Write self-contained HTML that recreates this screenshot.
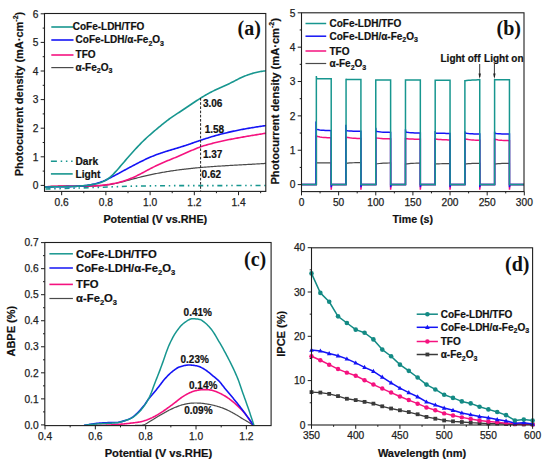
<!DOCTYPE html>
<html><head><meta charset="utf-8"><style>
html,body{margin:0;padding:0;background:#fff;}
svg{display:block;}
</style></head><body>
<svg width="550" height="468" viewBox="0 0 550 468">
<defs>
<clipPath id="ca"><rect x="44.5" y="13.5" width="221.3" height="177.9"/></clipPath>
<clipPath id="cb"><rect x="301.5" y="12.8" width="222.5" height="178.79999999999998"/></clipPath>
<clipPath id="cc"><rect x="44.8" y="242.5" width="226.3" height="183.10000000000002"/></clipPath>
<clipPath id="cd"><rect x="311.5" y="247.8" width="221.10000000000002" height="177.2"/></clipPath>
</defs>
<rect width="550" height="468" fill="#fff"/>
<g clip-path="url(#ca)">
<path d="M44.5,189.0 L70,188.3 L100,187.3 L130,186.2 L160,185.7 L265.8,185.5" fill="none" stroke="#17968f" stroke-width="1.6" stroke-dasharray="5,3.7,1.5,3.7,1.5,3.7" stroke-dashoffset="-1"/>
<path d="M44.00,186.89 L45.12,186.79 L46.23,186.71 L47.35,186.63 L48.46,186.56 L49.58,186.49 L50.69,186.44 L51.81,186.39 L52.92,186.34 L54.04,186.30 L55.16,186.27 L56.27,186.25 L57.39,186.23 L58.50,186.21 L59.62,186.20 L60.73,186.19 L61.85,186.19 L62.96,186.19 L64.08,186.19 L65.20,186.20 L66.31,186.20 L67.43,186.21 L68.54,186.22 L69.66,186.24 L70.77,186.25 L71.89,186.26 L73.01,186.28 L74.12,186.29 L75.24,186.30 L76.35,186.32 L77.47,186.33 L78.58,186.34 L79.70,186.35 L80.81,186.35 L81.93,186.36 L83.05,186.36 L84.16,186.35 L85.28,186.35 L86.39,186.34 L87.51,186.32 L88.62,186.30 L89.74,186.28 L90.85,186.25 L91.97,186.21 L93.09,186.17 L94.20,186.12 L95.32,186.07 L96.43,186.01 L97.55,185.94 L98.66,185.86 L99.78,185.78 L100.89,185.68 L102.01,185.58 L103.13,185.47 L104.24,185.35 L105.36,185.22 L106.47,185.07 L107.59,184.92 L108.70,184.76 L109.82,184.58 L110.93,184.40 L112.05,184.20 L113.17,183.99 L114.28,183.77 L115.40,183.53 L116.51,183.29 L117.63,183.03 L118.74,182.76 L119.86,182.49 L120.97,182.21 L122.09,181.92 L123.21,181.63 L124.32,181.33 L125.44,181.03 L126.55,180.73 L127.67,180.43 L128.78,180.13 L129.90,179.82 L131.02,179.52 L132.13,179.22 L133.25,178.93 L134.36,178.63 L135.48,178.34 L136.59,178.05 L137.71,177.77 L138.82,177.49 L139.94,177.21 L141.06,176.93 L142.17,176.66 L143.29,176.39 L144.40,176.13 L145.52,175.86 L146.63,175.61 L147.75,175.35 L148.86,175.10 L149.98,174.86 L151.10,174.62 L152.21,174.38 L153.33,174.15 L154.44,173.92 L155.56,173.69 L156.67,173.47 L157.79,173.26 L158.90,173.04 L160.02,172.84 L161.14,172.63 L162.25,172.43 L163.37,172.23 L164.48,172.04 L165.60,171.85 L166.71,171.67 L167.83,171.49 L168.94,171.31 L170.06,171.13 L171.18,170.96 L172.29,170.80 L173.41,170.63 L174.52,170.47 L175.64,170.31 L176.75,170.16 L177.87,170.01 L178.98,169.86 L180.10,169.71 L181.22,169.57 L182.33,169.43 L183.45,169.30 L184.56,169.16 L185.68,169.03 L186.79,168.90 L187.91,168.78 L189.03,168.65 L190.14,168.53 L191.26,168.42 L192.37,168.30 L193.49,168.19 L194.60,168.08 L195.72,167.97 L196.83,167.86 L197.95,167.76 L199.07,167.66 L200.18,167.56 L201.30,167.46 L202.41,167.36 L203.53,167.27 L204.64,167.18 L205.76,167.09 L206.87,167.00 L207.99,166.91 L209.11,166.83 L210.22,166.74 L211.34,166.66 L212.45,166.58 L213.57,166.50 L214.68,166.42 L215.80,166.35 L216.91,166.27 L218.03,166.20 L219.15,166.13 L220.26,166.05 L221.38,165.98 L222.49,165.91 L223.61,165.85 L224.72,165.78 L225.84,165.71 L226.95,165.64 L228.07,165.58 L229.19,165.51 L230.30,165.45 L231.42,165.39 L232.53,165.32 L233.65,165.26 L234.76,165.20 L235.88,165.14 L236.99,165.07 L238.11,165.01 L239.23,164.95 L240.34,164.89 L241.46,164.83 L242.57,164.77 L243.69,164.71 L244.80,164.65 L245.92,164.59 L247.04,164.52 L248.15,164.46 L249.27,164.40 L250.38,164.34 L251.50,164.28 L252.61,164.21 L253.73,164.15 L254.84,164.09 L255.96,164.02 L257.08,163.96 L258.19,163.89 L259.31,163.82 L260.42,163.75 L261.54,163.69 L262.65,163.62 L263.77,163.55 L264.88,163.47 L266.00,163.40" fill="none" stroke="#4a4a4a" stroke-width="1.2" stroke-linejoin="round"/>
<path d="M44.00,187.02 L45.12,186.91 L46.23,186.81 L47.35,186.71 L48.46,186.63 L49.58,186.55 L50.69,186.48 L51.81,186.42 L52.92,186.36 L54.04,186.31 L55.16,186.27 L56.27,186.23 L57.39,186.19 L58.50,186.17 L59.62,186.14 L60.73,186.12 L61.85,186.11 L62.96,186.10 L64.08,186.09 L65.20,186.08 L66.31,186.08 L67.43,186.08 L68.54,186.08 L69.66,186.09 L70.77,186.09 L71.89,186.09 L73.01,186.10 L74.12,186.11 L75.24,186.11 L76.35,186.12 L77.47,186.12 L78.58,186.12 L79.70,186.12 L80.81,186.12 L81.93,186.12 L83.05,186.11 L84.16,186.10 L85.28,186.09 L86.39,186.08 L87.51,186.06 L88.62,186.03 L89.74,186.00 L90.85,185.97 L91.97,185.93 L93.09,185.88 L94.20,185.83 L95.32,185.77 L96.43,185.70 L97.55,185.63 L98.66,185.55 L99.78,185.46 L100.89,185.37 L102.01,185.26 L103.13,185.15 L104.24,185.02 L105.36,184.89 L106.47,184.75 L107.59,184.59 L108.70,184.43 L109.82,184.25 L110.93,184.07 L112.05,183.87 L113.17,183.66 L114.28,183.44 L115.40,183.20 L116.51,182.95 L117.63,182.69 L118.74,182.41 L119.86,182.12 L120.97,181.81 L122.09,181.49 L123.21,181.16 L124.32,180.81 L125.44,180.44 L126.55,180.06 L127.67,179.66 L128.78,179.24 L129.90,178.81 L131.02,178.36 L132.13,177.90 L133.25,177.42 L134.36,176.92 L135.48,176.40 L136.59,175.86 L137.71,175.32 L138.82,174.76 L139.94,174.19 L141.06,173.61 L142.17,173.02 L143.29,172.44 L144.40,171.85 L145.52,171.25 L146.63,170.66 L147.75,170.06 L148.86,169.47 L149.98,168.88 L151.10,168.30 L152.21,167.72 L153.33,167.15 L154.44,166.59 L155.56,166.04 L156.67,165.49 L157.79,164.96 L158.90,164.44 L160.02,163.94 L161.14,163.44 L162.25,162.95 L163.37,162.47 L164.48,161.99 L165.60,161.52 L166.71,161.06 L167.83,160.60 L168.94,160.14 L170.06,159.69 L171.18,159.24 L172.29,158.78 L173.41,158.33 L174.52,157.88 L175.64,157.42 L176.75,156.96 L177.87,156.50 L178.98,156.03 L180.10,155.55 L181.22,155.07 L182.33,154.58 L183.45,154.09 L184.56,153.59 L185.68,153.09 L186.79,152.59 L187.91,152.09 L189.03,151.59 L190.14,151.09 L191.26,150.60 L192.37,150.11 L193.49,149.64 L194.60,149.16 L195.72,148.70 L196.83,148.25 L197.95,147.82 L199.07,147.39 L200.18,146.98 L201.30,146.59 L202.41,146.22 L203.53,145.86 L204.64,145.51 L205.76,145.18 L206.87,144.86 L207.99,144.55 L209.11,144.24 L210.22,143.95 L211.34,143.65 L212.45,143.37 L213.57,143.09 L214.68,142.81 L215.80,142.54 L216.91,142.27 L218.03,142.01 L219.15,141.75 L220.26,141.49 L221.38,141.24 L222.49,141.00 L223.61,140.75 L224.72,140.51 L225.84,140.28 L226.95,140.05 L228.07,139.82 L229.19,139.59 L230.30,139.37 L231.42,139.15 L232.53,138.93 L233.65,138.72 L234.76,138.51 L235.88,138.30 L236.99,138.09 L238.11,137.89 L239.23,137.68 L240.34,137.48 L241.46,137.29 L242.57,137.09 L243.69,136.90 L244.80,136.70 L245.92,136.51 L247.04,136.32 L248.15,136.13 L249.27,135.94 L250.38,135.76 L251.50,135.57 L252.61,135.39 L253.73,135.20 L254.84,135.02 L255.96,134.84 L257.08,134.65 L258.19,134.47 L259.31,134.29 L260.42,134.10 L261.54,133.92 L262.65,133.74 L263.77,133.55 L264.88,133.37 L266.00,133.18" fill="none" stroke="#f5127f" stroke-width="1.6" stroke-linejoin="round"/>
<path d="M44.00,187.22 L45.12,187.14 L46.23,187.07 L47.35,187.01 L48.46,186.96 L49.58,186.91 L50.69,186.87 L51.81,186.84 L52.92,186.81 L54.04,186.79 L55.16,186.77 L56.27,186.75 L57.39,186.74 L58.50,186.73 L59.62,186.72 L60.73,186.71 L61.85,186.71 L62.96,186.70 L64.08,186.69 L65.20,186.68 L66.31,186.67 L67.43,186.66 L68.54,186.64 L69.66,186.62 L70.77,186.59 L71.89,186.56 L73.01,186.53 L74.12,186.49 L75.24,186.44 L76.35,186.38 L77.47,186.32 L78.58,186.25 L79.70,186.17 L80.81,186.07 L81.93,185.97 L83.05,185.86 L84.16,185.74 L85.28,185.60 L86.39,185.45 L87.51,185.29 L88.62,185.12 L89.74,184.93 L90.85,184.72 L91.97,184.50 L93.09,184.26 L94.20,184.00 L95.32,183.73 L96.43,183.43 L97.55,183.12 L98.66,182.78 L99.78,182.41 L100.89,182.03 L102.01,181.62 L103.13,181.18 L104.24,180.71 L105.36,180.22 L106.47,179.70 L107.59,179.16 L108.70,178.60 L109.82,178.03 L110.93,177.46 L112.05,176.88 L113.17,176.30 L114.28,175.71 L115.40,175.12 L116.51,174.52 L117.63,173.93 L118.74,173.33 L119.86,172.72 L120.97,172.12 L122.09,171.52 L123.21,170.91 L124.32,170.31 L125.44,169.70 L126.55,169.10 L127.67,168.50 L128.78,167.89 L129.90,167.30 L131.02,166.70 L132.13,166.10 L133.25,165.51 L134.36,164.93 L135.48,164.34 L136.59,163.76 L137.71,163.19 L138.82,162.62 L139.94,162.06 L141.06,161.50 L142.17,160.95 L143.29,160.41 L144.40,159.87 L145.52,159.35 L146.63,158.83 L147.75,158.32 L148.86,157.82 L149.98,157.33 L151.10,156.85 L152.21,156.38 L153.33,155.92 L154.44,155.47 L155.56,155.03 L156.67,154.61 L157.79,154.20 L158.90,153.79 L160.02,153.40 L161.14,153.02 L162.25,152.65 L163.37,152.28 L164.48,151.92 L165.60,151.57 L166.71,151.22 L167.83,150.88 L168.94,150.54 L170.06,150.20 L171.18,149.87 L172.29,149.54 L173.41,149.20 L174.52,148.87 L175.64,148.54 L176.75,148.20 L177.87,147.87 L178.98,147.52 L180.10,147.18 L181.22,146.83 L182.33,146.48 L183.45,146.12 L184.56,145.75 L185.68,145.39 L186.79,145.02 L187.91,144.64 L189.03,144.27 L190.14,143.89 L191.26,143.51 L192.37,143.13 L193.49,142.75 L194.60,142.36 L195.72,141.98 L196.83,141.60 L197.95,141.22 L199.07,140.84 L200.18,140.46 L201.30,140.08 L202.41,139.71 L203.53,139.34 L204.64,138.97 L205.76,138.60 L206.87,138.24 L207.99,137.89 L209.11,137.54 L210.22,137.19 L211.34,136.85 L212.45,136.52 L213.57,136.19 L214.68,135.86 L215.80,135.55 L216.91,135.23 L218.03,134.93 L219.15,134.63 L220.26,134.33 L221.38,134.04 L222.49,133.75 L223.61,133.47 L224.72,133.20 L225.84,132.93 L226.95,132.66 L228.07,132.40 L229.19,132.14 L230.30,131.89 L231.42,131.64 L232.53,131.39 L233.65,131.15 L234.76,130.91 L235.88,130.68 L236.99,130.45 L238.11,130.23 L239.23,130.01 L240.34,129.79 L241.46,129.57 L242.57,129.36 L243.69,129.15 L244.80,128.95 L245.92,128.75 L247.04,128.55 L248.15,128.35 L249.27,128.16 L250.38,127.97 L251.50,127.79 L252.61,127.60 L253.73,127.42 L254.84,127.24 L255.96,127.06 L257.08,126.89 L258.19,126.71 L259.31,126.54 L260.42,126.37 L261.54,126.21 L262.65,126.04 L263.77,125.88 L264.88,125.72 L266.00,125.56" fill="none" stroke="#1414f5" stroke-width="1.6" stroke-linejoin="round"/>
<path d="M44.00,187.22 L45.12,187.16 L46.23,187.10 L47.35,187.05 L48.46,187.00 L49.58,186.96 L50.69,186.92 L51.81,186.89 L52.92,186.86 L54.04,186.84 L55.16,186.81 L56.27,186.79 L57.39,186.77 L58.50,186.75 L59.62,186.74 L60.73,186.72 L61.85,186.70 L62.96,186.69 L64.08,186.67 L65.20,186.65 L66.31,186.63 L67.43,186.60 L68.54,186.58 L69.66,186.55 L70.77,186.52 L71.89,186.48 L73.01,186.44 L74.12,186.39 L75.24,186.34 L76.35,186.28 L77.47,186.22 L78.58,186.15 L79.70,186.07 L80.81,185.98 L81.93,185.89 L83.05,185.79 L84.16,185.67 L85.28,185.55 L86.39,185.42 L87.51,185.28 L88.62,185.13 L89.74,184.97 L90.85,184.79 L91.97,184.60 L93.09,184.41 L94.20,184.19 L95.32,183.97 L96.43,183.72 L97.55,183.46 L98.66,183.17 L99.78,182.85 L100.89,182.48 L102.01,182.06 L103.13,181.59 L104.24,181.06 L105.36,180.45 L106.47,179.77 L107.59,179.02 L108.70,178.19 L109.82,177.30 L110.93,176.34 L112.05,175.31 L113.17,174.23 L114.28,173.09 L115.40,171.91 L116.51,170.70 L117.63,169.45 L118.74,168.18 L119.86,166.89 L120.97,165.59 L122.09,164.29 L123.21,162.99 L124.32,161.69 L125.44,160.39 L126.55,159.10 L127.67,157.81 L128.78,156.53 L129.90,155.26 L131.02,154.00 L132.13,152.74 L133.25,151.50 L134.36,150.27 L135.48,149.05 L136.59,147.85 L137.71,146.66 L138.82,145.48 L139.94,144.32 L141.06,143.18 L142.17,142.06 L143.29,140.96 L144.40,139.88 L145.52,138.82 L146.63,137.78 L147.75,136.77 L148.86,135.77 L149.98,134.78 L151.10,133.81 L152.21,132.85 L153.33,131.89 L154.44,130.94 L155.56,129.99 L156.67,129.06 L157.79,128.12 L158.90,127.20 L160.02,126.27 L161.14,125.36 L162.25,124.45 L163.37,123.55 L164.48,122.66 L165.60,121.78 L166.71,120.92 L167.83,120.07 L168.94,119.24 L170.06,118.43 L171.18,117.64 L172.29,116.87 L173.41,116.12 L174.52,115.38 L175.64,114.64 L176.75,113.91 L177.87,113.19 L178.98,112.46 L180.10,111.73 L181.22,111.00 L182.33,110.26 L183.45,109.51 L184.56,108.76 L185.68,108.01 L186.79,107.26 L187.91,106.50 L189.03,105.75 L190.14,104.99 L191.26,104.24 L192.37,103.49 L193.49,102.74 L194.60,102.00 L195.72,101.26 L196.83,100.53 L197.95,99.80 L199.07,99.08 L200.18,98.37 L201.30,97.68 L202.41,96.99 L203.53,96.31 L204.64,95.64 L205.76,94.99 L206.87,94.35 L207.99,93.73 L209.11,93.12 L210.22,92.53 L211.34,91.96 L212.45,91.40 L213.57,90.86 L214.68,90.32 L215.80,89.80 L216.91,89.28 L218.03,88.77 L219.15,88.27 L220.26,87.77 L221.38,87.27 L222.49,86.77 L223.61,86.27 L224.72,85.77 L225.84,85.26 L226.95,84.74 L228.07,84.22 L229.19,83.68 L230.30,83.13 L231.42,82.57 L232.53,82.00 L233.65,81.43 L234.76,80.85 L235.88,80.27 L236.99,79.69 L238.11,79.13 L239.23,78.57 L240.34,78.03 L241.46,77.51 L242.57,77.01 L243.69,76.53 L244.80,76.06 L245.92,75.62 L247.04,75.20 L248.15,74.79 L249.27,74.40 L250.38,74.04 L251.50,73.69 L252.61,73.36 L253.73,73.05 L254.84,72.75 L255.96,72.48 L257.08,72.22 L258.19,71.98 L259.31,71.76 L260.42,71.56 L261.54,71.37 L262.65,71.20 L263.77,71.05 L264.88,70.92 L266.00,70.80" fill="none" stroke="#17968f" stroke-width="1.6" stroke-linejoin="round"/>
</g>
<line x1="200.6" y1="98" x2="200.6" y2="191.4" stroke="#222" stroke-width="1" stroke-dasharray="2.6,1.6"/>
<rect x="44.5" y="13.5" width="221.3" height="177.9" fill="none" stroke="#1e1e1e" stroke-width="1.1"/>
<line x1="40.7" y1="185.4" x2="44.5" y2="185.4" stroke="#1e1e1e" stroke-width="1" />
<text x="38.3" y="189.1" font-size="10.2" font-weight="normal" text-anchor="end" font-family='"Liberation Sans", sans-serif' fill="#222" stroke="#222" stroke-width="0.25">0</text>
<line x1="40.7" y1="156.8" x2="44.5" y2="156.8" stroke="#1e1e1e" stroke-width="1" />
<text x="38.3" y="160.5" font-size="10.2" font-weight="normal" text-anchor="end" font-family='"Liberation Sans", sans-serif' fill="#222" stroke="#222" stroke-width="0.25">1</text>
<line x1="40.7" y1="128.2" x2="44.5" y2="128.2" stroke="#1e1e1e" stroke-width="1" />
<text x="38.3" y="131.89999999999998" font-size="10.2" font-weight="normal" text-anchor="end" font-family='"Liberation Sans", sans-serif' fill="#222" stroke="#222" stroke-width="0.25">2</text>
<line x1="40.7" y1="99.6" x2="44.5" y2="99.6" stroke="#1e1e1e" stroke-width="1" />
<text x="38.3" y="103.3" font-size="10.2" font-weight="normal" text-anchor="end" font-family='"Liberation Sans", sans-serif' fill="#222" stroke="#222" stroke-width="0.25">3</text>
<line x1="40.7" y1="71.0" x2="44.5" y2="71.0" stroke="#1e1e1e" stroke-width="1" />
<text x="38.3" y="74.7" font-size="10.2" font-weight="normal" text-anchor="end" font-family='"Liberation Sans", sans-serif' fill="#222" stroke="#222" stroke-width="0.25">4</text>
<line x1="40.7" y1="42.400000000000006" x2="44.5" y2="42.400000000000006" stroke="#1e1e1e" stroke-width="1" />
<text x="38.3" y="46.10000000000001" font-size="10.2" font-weight="normal" text-anchor="end" font-family='"Liberation Sans", sans-serif' fill="#222" stroke="#222" stroke-width="0.25">5</text>
<line x1="40.7" y1="13.799999999999983" x2="44.5" y2="13.799999999999983" stroke="#1e1e1e" stroke-width="1" />
<text x="38.3" y="17.499999999999982" font-size="10.2" font-weight="normal" text-anchor="end" font-family='"Liberation Sans", sans-serif' fill="#222" stroke="#222" stroke-width="0.25">6</text>
<line x1="42.7" y1="171.1" x2="44.5" y2="171.1" stroke="#1e1e1e" stroke-width="1" />
<line x1="42.7" y1="142.5" x2="44.5" y2="142.5" stroke="#1e1e1e" stroke-width="1" />
<line x1="42.7" y1="113.9" x2="44.5" y2="113.9" stroke="#1e1e1e" stroke-width="1" />
<line x1="42.7" y1="85.3" x2="44.5" y2="85.3" stroke="#1e1e1e" stroke-width="1" />
<line x1="42.7" y1="56.69999999999999" x2="44.5" y2="56.69999999999999" stroke="#1e1e1e" stroke-width="1" />
<line x1="42.7" y1="28.099999999999994" x2="44.5" y2="28.099999999999994" stroke="#1e1e1e" stroke-width="1" />
<line x1="61.66" y1="191.4" x2="61.66" y2="195.20000000000002" stroke="#1e1e1e" stroke-width="1" />
<text x="61.66" y="205.8" font-size="10.2" font-weight="normal" text-anchor="middle" font-family='"Liberation Sans", sans-serif' fill="#222" stroke="#222" stroke-width="0.25">0.6</text>
<line x1="105.88" y1="191.4" x2="105.88" y2="195.20000000000002" stroke="#1e1e1e" stroke-width="1" />
<text x="105.88" y="205.8" font-size="10.2" font-weight="normal" text-anchor="middle" font-family='"Liberation Sans", sans-serif' fill="#222" stroke="#222" stroke-width="0.25">0.8</text>
<line x1="150.1" y1="191.4" x2="150.1" y2="195.20000000000002" stroke="#1e1e1e" stroke-width="1" />
<text x="150.1" y="205.8" font-size="10.2" font-weight="normal" text-anchor="middle" font-family='"Liberation Sans", sans-serif' fill="#222" stroke="#222" stroke-width="0.25">1.0</text>
<line x1="194.32" y1="191.4" x2="194.32" y2="195.20000000000002" stroke="#1e1e1e" stroke-width="1" />
<text x="194.32" y="205.8" font-size="10.2" font-weight="normal" text-anchor="middle" font-family='"Liberation Sans", sans-serif' fill="#222" stroke="#222" stroke-width="0.25">1.2</text>
<line x1="238.53999999999996" y1="191.4" x2="238.53999999999996" y2="195.20000000000002" stroke="#1e1e1e" stroke-width="1" />
<text x="238.53999999999996" y="205.8" font-size="10.2" font-weight="normal" text-anchor="middle" font-family='"Liberation Sans", sans-serif' fill="#222" stroke="#222" stroke-width="0.25">1.4</text>
<line x1="83.76999999999998" y1="191.4" x2="83.76999999999998" y2="193.20000000000002" stroke="#1e1e1e" stroke-width="1" />
<line x1="127.99" y1="191.4" x2="127.99" y2="193.20000000000002" stroke="#1e1e1e" stroke-width="1" />
<line x1="172.21" y1="191.4" x2="172.21" y2="193.20000000000002" stroke="#1e1e1e" stroke-width="1" />
<line x1="216.43" y1="191.4" x2="216.43" y2="193.20000000000002" stroke="#1e1e1e" stroke-width="1" />
<line x1="260.65" y1="191.4" x2="260.65" y2="193.20000000000002" stroke="#1e1e1e" stroke-width="1" />
<text transform="translate(22.5,94) rotate(-90)" x="0" y="0" font-size="11" font-weight="bold" text-anchor="middle" font-family='"Liberation Sans", sans-serif' fill="#111" stroke="#111" stroke-width="0.2">Photocurrent density (mA·cm<tspan font-size="7" dy="-4.5">-2</tspan><tspan dy="4.5">)</tspan></text>
<text x="155.3" y="222.9" font-size="10.8" font-weight="bold" text-anchor="middle" font-family='"Liberation Sans", sans-serif' fill="#111" stroke="#111" stroke-width="0.2">Potential (V vs.RHE)</text>
<text x="237.5" y="35.2" font-size="20" font-weight="bold" text-anchor="start" font-family='"Liberation Serif", serif' fill="#111" >(a)</text>
<line x1="51.3" y1="27" x2="73.5" y2="27" stroke="#17968f" stroke-width="1.6" />
<text x="72.7" y="30.0" font-size="10" font-weight="bold" text-anchor="start" font-family='"Liberation Sans", sans-serif' fill="#111" stroke="#111" stroke-width="0.2">CoFe-LDH/TFO</text>
<line x1="51.3" y1="40" x2="73.5" y2="40" stroke="#1414f5" stroke-width="1.6" />
<text x="75.6" y="43.0" font-size="10" font-weight="bold" text-anchor="start" font-family='"Liberation Sans", sans-serif' fill="#111" stroke="#111" stroke-width="0.2">CoFe-LDH/α-Fe<tspan font-size="7" dy="2.5">2</tspan><tspan dy="-2.5">O</tspan><tspan font-size="7" dy="2.5">3</tspan></text>
<line x1="51.3" y1="55" x2="73.5" y2="55" stroke="#f5127f" stroke-width="1.6" />
<text x="75.6" y="58.0" font-size="10" font-weight="bold" text-anchor="start" font-family='"Liberation Sans", sans-serif' fill="#111" stroke="#111" stroke-width="0.2">TFO</text>
<line x1="51.3" y1="67.6" x2="73.5" y2="67.6" stroke="#4a4a4a" stroke-width="1.2" />
<text x="75.6" y="70.6" font-size="10" font-weight="bold" text-anchor="start" font-family='"Liberation Sans", sans-serif' fill="#111" stroke="#111" stroke-width="0.2">α-Fe<tspan font-size="7" dy="2.5">2</tspan><tspan dy="-2.5">O</tspan><tspan font-size="7" dy="2.5">3</tspan></text>
<line x1="50.9" y1="161.2" x2="73" y2="161.2" stroke="#17968f" stroke-width="1.6" stroke-dasharray="6,3.8,1.5,3.7,1.5,3.7,1.5,3.7"/>
<line x1="50.9" y1="173.9" x2="72.7" y2="173.9" stroke="#17968f" stroke-width="1.6" />
<text x="75.5" y="165.0" font-size="10.2" font-weight="bold" text-anchor="start" font-family='"Liberation Sans", sans-serif' fill="#111" stroke="#111" stroke-width="0.2">Dark</text>
<text x="75.5" y="177.7" font-size="10.2" font-weight="bold" text-anchor="start" font-family='"Liberation Sans", sans-serif' fill="#111" stroke="#111" stroke-width="0.2">Light</text>
<text x="202.9" y="106.9" font-size="10" font-weight="bold" text-anchor="start" font-family='"Liberation Sans", sans-serif' fill="#111" stroke="#111" stroke-width="0.2">3.06</text>
<text x="204.7" y="132.5" font-size="10" font-weight="bold" text-anchor="start" font-family='"Liberation Sans", sans-serif' fill="#111" stroke="#111" stroke-width="0.2">1.58</text>
<text x="202.9" y="157.7" font-size="10" font-weight="bold" text-anchor="start" font-family='"Liberation Sans", sans-serif' fill="#111" stroke="#111" stroke-width="0.2">1.37</text>
<text x="201.6" y="178.0" font-size="10" font-weight="bold" text-anchor="start" font-family='"Liberation Sans", sans-serif' fill="#111" stroke="#111" stroke-width="0.2">0.62</text>
<g clip-path="url(#cb)">
<path d="M301.50,184.60 L316.35,184.60 L316.35,162.95 L318.11,162.95 L319.98,162.95 L321.85,162.95 L323.72,162.95 L325.59,162.95 L327.46,162.95 L329.34,162.95 L331.21,162.95 L331.21,184.60 L346.06,184.60 L346.06,163.30 L347.81,163.13 L349.69,162.97 L351.56,162.85 L353.43,162.77 L355.30,162.71 L357.17,162.67 L359.04,162.63 L360.92,162.61 L360.92,184.60 L375.77,184.60 L375.77,163.98 L377.52,163.74 L379.39,163.50 L381.27,163.32 L383.14,163.19 L385.01,163.10 L386.88,163.04 L388.75,162.99 L390.62,162.95 L390.62,184.60 L405.48,184.60 L405.48,163.98 L407.23,163.78 L409.10,163.58 L410.97,163.43 L412.85,163.33 L414.72,163.25 L416.59,163.19 L418.46,163.15 L420.33,163.12 L420.33,184.60 L435.19,184.60 L435.19,163.98 L436.94,163.90 L438.81,163.82 L440.68,163.76 L442.55,163.72 L444.43,163.69 L446.30,163.67 L448.17,163.65 L450.04,163.64 L450.04,184.60 L464.89,184.60 L464.89,163.98 L466.65,163.82 L468.52,163.66 L470.39,163.54 L472.26,163.46 L474.13,163.40 L476.00,163.35 L477.88,163.32 L479.75,163.30 L479.75,184.60 L494.60,184.60 L494.60,163.98 L496.35,163.82 L498.23,163.66 L500.10,163.54 L501.97,163.46 L503.84,163.40 L505.71,163.35 L507.58,163.32 L509.46,163.30 L509.46,184.60 L524.31,184.60" fill="none" stroke="#4a4a4a" stroke-width="1.2"/>
<path d="M301.50,184.60 L316.35,184.60 L316.35,136.15 L318.11,136.57 L319.98,136.97 L321.85,137.26 L323.72,137.47 L325.59,137.62 L327.46,137.73 L329.34,137.81 L331.21,137.87 L331.21,189.75 L331.65,184.60 L346.06,184.60 L346.06,137.18 L347.81,137.51 L349.69,137.83 L351.56,138.07 L353.43,138.24 L355.30,138.36 L357.17,138.45 L359.04,138.51 L360.92,138.56 L360.92,189.75 L361.36,184.60 L375.77,184.60 L375.77,137.87 L377.52,138.12 L379.39,138.36 L381.27,138.53 L383.14,138.66 L385.01,138.75 L386.88,138.82 L388.75,138.87 L390.62,138.90 L390.62,189.75 L391.07,184.60 L405.48,184.60 L405.48,138.56 L407.23,138.72 L409.10,138.88 L410.97,139.00 L412.85,139.08 L414.72,139.15 L416.59,139.19 L418.46,139.22 L420.33,139.24 L420.33,189.75 L420.78,184.60 L435.19,184.60 L435.19,138.90 L436.94,139.15 L438.81,139.39 L440.68,139.56 L442.55,139.69 L444.43,139.78 L446.30,139.85 L448.17,139.90 L450.04,139.93 L450.04,189.75 L450.49,184.60 L464.89,184.60 L464.89,138.90 L466.65,139.23 L468.52,139.55 L470.39,139.79 L472.26,139.95 L474.13,140.08 L476.00,140.16 L477.88,140.23 L479.75,140.28 L479.75,189.75 L480.19,184.60 L494.60,184.60 L494.60,139.24 L496.35,139.58 L498.23,139.90 L500.10,140.13 L501.97,140.30 L503.84,140.42 L505.71,140.51 L507.58,140.57 L509.46,140.62 L509.46,189.75 L509.90,184.60 L524.31,184.60" fill="none" stroke="#f5127f" stroke-width="1.5"/>
<path d="M301.50,184.60 L315.98,184.60 L315.98,121.38 L316.28,129.28 L317.77,129.61 L319.69,129.93 L321.61,130.16 L323.53,130.33 L325.45,130.46 L327.37,130.54 L329.29,130.61 L331.21,130.65 L331.21,187.18 L331.65,184.60 L345.84,184.60 L345.84,124.81 L346.14,130.65 L347.61,130.82 L349.51,130.98 L351.41,131.10 L353.31,131.18 L355.22,131.24 L357.12,131.29 L359.02,131.32 L360.92,131.34 L360.92,187.18 L361.36,184.60 L375.77,184.60 L375.77,127.91 L376.07,131.34 L377.52,131.59 L379.39,131.83 L381.27,132.01 L383.14,132.13 L385.01,132.22 L386.88,132.29 L388.75,132.34 L390.62,132.37 L390.62,187.18 L391.07,184.60 L405.48,184.60 L405.48,129.28 L405.78,132.03 L407.23,132.28 L409.10,132.52 L410.97,132.69 L412.85,132.82 L414.72,132.91 L416.59,132.98 L418.46,133.03 L420.33,133.06 L420.33,187.18 L420.78,184.60 L435.19,184.60 L435.19,131.00 L435.48,133.06 L436.94,133.14 L438.81,133.22 L440.68,133.28 L442.55,133.32 L444.43,133.35 L446.30,133.38 L448.17,133.39 L450.04,133.40 L450.04,187.18 L450.49,184.60 L464.89,184.60 L464.89,131.34 L465.19,133.06 L466.65,133.31 L468.52,133.55 L470.39,133.72 L472.26,133.85 L474.13,133.94 L476.00,134.01 L477.88,134.06 L479.75,134.09 L479.75,187.18 L480.19,184.60 L494.60,184.60 L494.60,131.69 L494.90,133.40 L496.35,133.57 L498.23,133.73 L500.10,133.85 L501.97,133.93 L503.84,133.99 L505.71,134.04 L507.58,134.07 L509.46,134.09 L509.46,187.18 L509.90,184.60 L524.31,184.60" fill="none" stroke="#1414f5" stroke-width="1.5"/>
<path d="M301.50,184.60 L316.35,184.60 L316.35,76.02 L316.65,78.77 L318.11,78.77 L319.98,78.77 L321.85,78.77 L323.72,78.77 L325.59,78.77 L327.46,78.77 L329.34,78.77 L331.21,78.77 L331.21,184.60 L346.06,184.60 L346.06,78.77 L346.36,79.46 L347.81,79.46 L349.69,79.46 L351.56,79.46 L353.43,79.46 L355.30,79.46 L357.17,79.46 L359.04,79.46 L360.92,79.46 L360.92,184.60 L375.77,184.60 L375.77,79.97 L376.07,79.97 L377.52,79.97 L379.39,79.97 L381.27,79.97 L383.14,79.97 L385.01,79.97 L386.88,79.97 L388.75,79.97 L390.62,79.97 L390.62,184.60 L405.48,184.60 L405.48,79.97 L405.78,79.97 L407.23,79.97 L409.10,79.97 L410.97,79.97 L412.85,79.97 L414.72,79.97 L416.59,79.97 L418.46,79.97 L420.33,79.97 L420.33,184.60 L435.19,184.60 L435.19,80.15 L435.48,80.15 L436.94,80.15 L438.81,80.15 L440.68,80.15 L442.55,80.15 L444.43,80.15 L446.30,80.15 L448.17,80.15 L450.04,80.15 L450.04,184.60 L464.89,184.60 L464.89,80.83 L465.19,80.83 L466.65,80.58 L468.52,80.34 L470.39,80.17 L472.26,80.04 L474.13,79.95 L476.00,79.89 L477.88,79.84 L479.75,79.80 L479.75,184.60 L494.60,184.60 L494.60,79.80 L494.90,79.80 L496.35,79.80 L498.23,79.80 L500.10,79.80 L501.97,79.80 L503.84,79.80 L505.71,79.80 L507.58,79.80 L509.46,79.80 L509.46,184.60 L524.31,184.60" fill="none" stroke="#17968f" stroke-width="1.5"/>
</g>
<rect x="301.5" y="12.8" width="222.5" height="178.79999999999998" fill="none" stroke="#1e1e1e" stroke-width="1.1"/>
<line x1="297.7" y1="184.6" x2="301.5" y2="184.6" stroke="#1e1e1e" stroke-width="1" />
<text x="295.3" y="188.29999999999998" font-size="10.2" font-weight="normal" text-anchor="end" font-family='"Liberation Sans", sans-serif' fill="#222" stroke="#222" stroke-width="0.25">0</text>
<line x1="297.7" y1="150.24" x2="301.5" y2="150.24" stroke="#1e1e1e" stroke-width="1" />
<text x="295.3" y="153.94" font-size="10.2" font-weight="normal" text-anchor="end" font-family='"Liberation Sans", sans-serif' fill="#222" stroke="#222" stroke-width="0.25">1</text>
<line x1="297.7" y1="115.88" x2="301.5" y2="115.88" stroke="#1e1e1e" stroke-width="1" />
<text x="295.3" y="119.58" font-size="10.2" font-weight="normal" text-anchor="end" font-family='"Liberation Sans", sans-serif' fill="#222" stroke="#222" stroke-width="0.25">2</text>
<line x1="297.7" y1="81.52" x2="301.5" y2="81.52" stroke="#1e1e1e" stroke-width="1" />
<text x="295.3" y="85.22" font-size="10.2" font-weight="normal" text-anchor="end" font-family='"Liberation Sans", sans-serif' fill="#222" stroke="#222" stroke-width="0.25">3</text>
<line x1="297.7" y1="47.16" x2="301.5" y2="47.16" stroke="#1e1e1e" stroke-width="1" />
<text x="295.3" y="50.86" font-size="10.2" font-weight="normal" text-anchor="end" font-family='"Liberation Sans", sans-serif' fill="#222" stroke="#222" stroke-width="0.25">4</text>
<line x1="297.7" y1="12.799999999999983" x2="301.5" y2="12.799999999999983" stroke="#1e1e1e" stroke-width="1" />
<text x="295.3" y="16.499999999999982" font-size="10.2" font-weight="normal" text-anchor="end" font-family='"Liberation Sans", sans-serif' fill="#222" stroke="#222" stroke-width="0.25">5</text>
<line x1="299.7" y1="167.42" x2="301.5" y2="167.42" stroke="#1e1e1e" stroke-width="1" />
<line x1="299.7" y1="133.06" x2="301.5" y2="133.06" stroke="#1e1e1e" stroke-width="1" />
<line x1="299.7" y1="98.69999999999999" x2="301.5" y2="98.69999999999999" stroke="#1e1e1e" stroke-width="1" />
<line x1="299.7" y1="64.34" x2="301.5" y2="64.34" stroke="#1e1e1e" stroke-width="1" />
<line x1="299.7" y1="29.97999999999999" x2="301.5" y2="29.97999999999999" stroke="#1e1e1e" stroke-width="1" />
<line x1="301.5" y1="191.6" x2="301.5" y2="195.4" stroke="#1e1e1e" stroke-width="1" />
<text x="301.5" y="206.0" font-size="10.2" font-weight="normal" text-anchor="middle" font-family='"Liberation Sans", sans-serif' fill="#222" stroke="#222" stroke-width="0.25">0</text>
<line x1="338.635" y1="191.6" x2="338.635" y2="195.4" stroke="#1e1e1e" stroke-width="1" />
<text x="338.635" y="206.0" font-size="10.2" font-weight="normal" text-anchor="middle" font-family='"Liberation Sans", sans-serif' fill="#222" stroke="#222" stroke-width="0.25">50</text>
<line x1="375.77" y1="191.6" x2="375.77" y2="195.4" stroke="#1e1e1e" stroke-width="1" />
<text x="375.77" y="206.0" font-size="10.2" font-weight="normal" text-anchor="middle" font-family='"Liberation Sans", sans-serif' fill="#222" stroke="#222" stroke-width="0.25">100</text>
<line x1="412.905" y1="191.6" x2="412.905" y2="195.4" stroke="#1e1e1e" stroke-width="1" />
<text x="412.905" y="206.0" font-size="10.2" font-weight="normal" text-anchor="middle" font-family='"Liberation Sans", sans-serif' fill="#222" stroke="#222" stroke-width="0.25">150</text>
<line x1="450.03999999999996" y1="191.6" x2="450.03999999999996" y2="195.4" stroke="#1e1e1e" stroke-width="1" />
<text x="450.03999999999996" y="206.0" font-size="10.2" font-weight="normal" text-anchor="middle" font-family='"Liberation Sans", sans-serif' fill="#222" stroke="#222" stroke-width="0.25">200</text>
<line x1="487.175" y1="191.6" x2="487.175" y2="195.4" stroke="#1e1e1e" stroke-width="1" />
<text x="487.175" y="206.0" font-size="10.2" font-weight="normal" text-anchor="middle" font-family='"Liberation Sans", sans-serif' fill="#222" stroke="#222" stroke-width="0.25">250</text>
<line x1="524.31" y1="191.6" x2="524.31" y2="195.4" stroke="#1e1e1e" stroke-width="1" />
<text x="524.31" y="206.0" font-size="10.2" font-weight="normal" text-anchor="middle" font-family='"Liberation Sans", sans-serif' fill="#222" stroke="#222" stroke-width="0.25">300</text>
<line x1="320.0675" y1="191.6" x2="320.0675" y2="193.4" stroke="#1e1e1e" stroke-width="1" />
<line x1="357.2025" y1="191.6" x2="357.2025" y2="193.4" stroke="#1e1e1e" stroke-width="1" />
<line x1="394.3375" y1="191.6" x2="394.3375" y2="193.4" stroke="#1e1e1e" stroke-width="1" />
<line x1="431.47249999999997" y1="191.6" x2="431.47249999999997" y2="193.4" stroke="#1e1e1e" stroke-width="1" />
<line x1="468.6075" y1="191.6" x2="468.6075" y2="193.4" stroke="#1e1e1e" stroke-width="1" />
<line x1="505.7425" y1="191.6" x2="505.7425" y2="193.4" stroke="#1e1e1e" stroke-width="1" />
<text transform="translate(278.6,101.3) rotate(-90)" x="0" y="0" font-size="11.15" font-weight="bold" text-anchor="middle" font-family='"Liberation Sans", sans-serif' fill="#111" stroke="#111" stroke-width="0.2">Photocurrent density (mA·cm<tspan font-size="7" dy="-4.5">-2</tspan><tspan dy="4.5">)</tspan></text>
<text x="412.75" y="223.2" font-size="10.6" font-weight="bold" text-anchor="middle" font-family='"Liberation Sans", sans-serif' fill="#111" stroke="#111" stroke-width="0.2">Time (s)</text>
<text x="496.5" y="34.8" font-size="20" font-weight="bold" text-anchor="start" font-family='"Liberation Serif", serif' fill="#111" >(b)</text>
<line x1="305.5" y1="23.5" x2="326.2" y2="23.5" stroke="#17968f" stroke-width="1.5" />
<text x="329.5" y="27.1" font-size="10" font-weight="bold" text-anchor="start" font-family='"Liberation Sans", sans-serif' fill="#111" stroke="#111" stroke-width="0.2">CoFe-LDH/TFO</text>
<line x1="305.5" y1="36.2" x2="326.2" y2="36.2" stroke="#1414f5" stroke-width="1.5" />
<text x="329.5" y="39.800000000000004" font-size="10" font-weight="bold" text-anchor="start" font-family='"Liberation Sans", sans-serif' fill="#111" stroke="#111" stroke-width="0.2">CoFe-LDH/α-Fe<tspan font-size="7" dy="2.5">2</tspan><tspan dy="-2.5">O</tspan><tspan font-size="7" dy="2.5">3</tspan></text>
<line x1="305.5" y1="51" x2="326.2" y2="51" stroke="#f5127f" stroke-width="1.5" />
<text x="329.5" y="54.6" font-size="10" font-weight="bold" text-anchor="start" font-family='"Liberation Sans", sans-serif' fill="#111" stroke="#111" stroke-width="0.2">TFO</text>
<line x1="305.5" y1="63.5" x2="326.2" y2="63.5" stroke="#4a4a4a" stroke-width="1.2" />
<text x="329.5" y="67.1" font-size="10" font-weight="bold" text-anchor="start" font-family='"Liberation Sans", sans-serif' fill="#111" stroke="#111" stroke-width="0.2">α-Fe<tspan font-size="7" dy="2.5">2</tspan><tspan dy="-2.5">O</tspan><tspan font-size="7" dy="2.5">3</tspan></text>
<text x="440.5" y="61.8" font-size="10" font-weight="bold" text-anchor="start" font-family='"Liberation Sans", sans-serif' fill="#111" stroke="#111" stroke-width="0.2">Light off</text>
<text x="484.1" y="61.8" font-size="10" font-weight="bold" text-anchor="start" font-family='"Liberation Sans", sans-serif' fill="#111" stroke="#111" stroke-width="0.2">Light on</text>
<line x1="479.7" y1="64" x2="479.7" y2="77" stroke="#222" stroke-width="0.9" />
<path d="M478.5,73.6 L479.7,79 L480.9,73.6 Z" fill="#222"/>
<line x1="494.4" y1="64" x2="494.4" y2="77" stroke="#222" stroke-width="0.9" />
<path d="M493.2,73.6 L494.4,79 L495.59999999999997,73.6 Z" fill="#222"/>
<g clip-path="url(#cc)">
<path d="M135.00,425.40 L135.59,425.40 L136.19,425.40 L136.78,425.39 L137.38,425.38 L137.97,425.38 L138.56,425.37 L139.16,425.35 L139.75,425.34 L140.35,425.32 L140.94,425.30 L141.53,425.26 L142.13,425.16 L142.72,425.03 L143.32,424.88 L143.91,424.71 L144.50,424.50 L145.10,424.26 L145.69,423.97 L146.29,423.65 L146.88,423.31 L147.47,422.95 L148.07,422.58 L148.66,422.20 L149.26,421.81 L149.85,421.44 L150.44,421.07 L151.04,420.72 L151.63,420.37 L152.23,420.01 L152.82,419.64 L153.41,419.27 L154.01,418.90 L154.60,418.52 L155.19,418.15 L155.79,417.77 L156.38,417.40 L156.98,417.04 L157.57,416.67 L158.16,416.32 L158.76,415.97 L159.35,415.63 L159.95,415.29 L160.54,414.96 L161.13,414.62 L161.73,414.29 L162.32,413.96 L162.92,413.63 L163.51,413.30 L164.10,412.98 L164.70,412.65 L165.29,412.32 L165.89,411.98 L166.48,411.64 L167.07,411.30 L167.67,410.97 L168.26,410.64 L168.86,410.32 L169.45,410.02 L170.04,409.73 L170.64,409.44 L171.23,409.16 L171.83,408.88 L172.42,408.60 L173.01,408.33 L173.61,408.07 L174.20,407.81 L174.80,407.56 L175.39,407.31 L175.98,407.07 L176.58,406.83 L177.17,406.59 L177.77,406.36 L178.36,406.14 L178.95,405.91 L179.55,405.70 L180.14,405.50 L180.74,405.30 L181.33,405.12 L181.92,404.95 L182.52,404.78 L183.11,404.62 L183.71,404.46 L184.30,404.31 L184.89,404.17 L185.49,404.04 L186.08,403.92 L186.68,403.80 L187.27,403.70 L187.86,403.60 L188.46,403.50 L189.05,403.41 L189.65,403.33 L190.24,403.27 L190.83,403.21 L191.43,403.17 L192.02,403.13 L192.62,403.09 L193.21,403.06 L193.80,403.03 L194.40,403.01 L194.99,403.00 L195.58,403.00 L196.18,403.01 L196.77,403.02 L197.37,403.04 L197.96,403.06 L198.55,403.09 L199.15,403.11 L199.74,403.15 L200.34,403.18 L200.93,403.21 L201.52,403.26 L202.12,403.32 L202.71,403.39 L203.31,403.46 L203.90,403.55 L204.49,403.64 L205.09,403.73 L205.68,403.82 L206.28,403.92 L206.87,404.01 L207.46,404.10 L208.06,404.20 L208.65,404.30 L209.25,404.41 L209.84,404.52 L210.43,404.63 L211.03,404.75 L211.62,404.87 L212.22,404.99 L212.81,405.12 L213.40,405.26 L214.00,405.40 L214.59,405.56 L215.19,405.71 L215.78,405.87 L216.37,406.04 L216.97,406.21 L217.56,406.39 L218.16,406.56 L218.75,406.75 L219.34,406.93 L219.94,407.12 L220.53,407.31 L221.13,407.51 L221.72,407.72 L222.31,407.93 L222.91,408.15 L223.50,408.37 L224.10,408.60 L224.69,408.84 L225.28,409.08 L225.88,409.34 L226.47,409.61 L227.07,409.89 L227.66,410.17 L228.25,410.46 L228.85,410.76 L229.44,411.06 L230.04,411.36 L230.63,411.67 L231.22,411.98 L231.82,412.29 L232.41,412.62 L233.01,412.94 L233.60,413.28 L234.19,413.61 L234.79,413.96 L235.38,414.30 L235.97,414.65 L236.57,415.00 L237.16,415.36 L237.76,415.73 L238.35,416.10 L238.94,416.48 L239.54,416.86 L240.13,417.24 L240.73,417.62 L241.32,418.00 L241.91,418.37 L242.51,418.73 L243.10,419.08 L243.70,419.42 L244.29,419.76 L244.88,420.10 L245.48,420.44 L246.07,420.78 L246.67,421.13 L247.26,421.48 L247.85,421.83 L248.45,422.19 L249.04,422.56 L249.64,422.93 L250.23,423.30 L250.82,423.67 L251.42,424.05 L252.01,424.43 L252.61,424.81 L253.20,425.20" fill="none" stroke="#4a4a4a" stroke-width="1.2" stroke-linejoin="round"/>
<path d="M95.00,425.40 L95.79,425.40 L96.59,425.39 L97.38,425.39 L98.18,425.37 L98.97,425.36 L99.77,425.35 L100.56,425.33 L101.36,425.31 L102.15,425.29 L102.95,425.26 L103.74,425.24 L104.54,425.21 L105.33,425.18 L106.13,425.15 L106.92,425.12 L107.72,425.09 L108.51,425.06 L109.31,425.03 L110.10,425.00 L110.90,424.96 L111.69,424.92 L112.49,424.88 L113.28,424.83 L114.08,424.77 L114.87,424.72 L115.67,424.66 L116.46,424.59 L117.26,424.53 L118.05,424.46 L118.85,424.39 L119.64,424.31 L120.44,424.24 L121.23,424.16 L122.03,424.09 L122.82,424.01 L123.62,423.93 L124.41,423.86 L125.21,423.78 L126.00,423.70 L126.80,423.62 L127.59,423.53 L128.39,423.44 L129.18,423.34 L129.98,423.25 L130.77,423.15 L131.57,423.05 L132.36,422.96 L133.16,422.86 L133.95,422.76 L134.75,422.67 L135.54,422.57 L136.34,422.47 L137.13,422.36 L137.93,422.25 L138.72,422.12 L139.52,421.99 L140.31,421.84 L141.11,421.66 L141.90,421.46 L142.70,421.24 L143.49,421.00 L144.29,420.75 L145.08,420.48 L145.88,420.21 L146.67,419.92 L147.47,419.64 L148.26,419.34 L149.06,419.03 L149.85,418.69 L150.65,418.35 L151.44,417.99 L152.24,417.62 L153.03,417.23 L153.83,416.84 L154.62,416.44 L155.42,416.02 L156.21,415.57 L157.01,415.11 L157.80,414.64 L158.60,414.15 L159.39,413.65 L160.19,413.14 L160.98,412.63 L161.78,412.11 L162.57,411.59 L163.37,411.06 L164.16,410.52 L164.96,409.97 L165.75,409.41 L166.55,408.84 L167.34,408.27 L168.14,407.70 L168.93,407.12 L169.73,406.54 L170.52,405.96 L171.32,405.37 L172.11,404.77 L172.91,404.17 L173.70,403.57 L174.50,402.96 L175.29,402.35 L176.09,401.74 L176.88,401.13 L177.68,400.49 L178.47,399.85 L179.27,399.21 L180.06,398.58 L180.86,397.99 L181.65,397.43 L182.45,396.89 L183.24,396.36 L184.04,395.85 L184.83,395.36 L185.63,394.89 L186.42,394.45 L187.22,394.03 L188.01,393.61 L188.81,393.22 L189.60,392.83 L190.40,392.47 L191.19,392.14 L191.99,391.84 L192.78,391.56 L193.58,391.30 L194.37,391.05 L195.17,390.83 L195.96,390.62 L196.76,390.45 L197.55,390.29 L198.35,390.14 L199.14,389.99 L199.94,389.85 L200.73,389.74 L201.53,389.65 L202.32,389.61 L203.12,389.60 L203.91,389.61 L204.71,389.62 L205.50,389.63 L206.30,389.65 L207.09,389.67 L207.89,389.70 L208.68,389.74 L209.48,389.84 L210.27,389.98 L211.07,390.14 L211.86,390.32 L212.66,390.52 L213.45,390.72 L214.25,390.95 L215.04,391.23 L215.84,391.53 L216.63,391.85 L217.43,392.19 L218.22,392.54 L219.02,392.88 L219.81,393.25 L220.61,393.63 L221.40,394.03 L222.20,394.45 L222.99,394.88 L223.79,395.33 L224.58,395.79 L225.38,396.27 L226.17,396.76 L226.97,397.28 L227.76,397.82 L228.56,398.38 L229.35,398.95 L230.15,399.53 L230.94,400.14 L231.74,400.76 L232.53,401.41 L233.33,402.08 L234.12,402.77 L234.92,403.47 L235.71,404.18 L236.51,404.90 L237.30,405.61 L238.10,406.34 L238.89,407.08 L239.69,407.83 L240.48,408.61 L241.28,409.41 L242.07,410.25 L242.87,411.13 L243.66,412.06 L244.46,413.03 L245.25,414.03 L246.05,415.07 L246.84,416.12 L247.64,417.18 L248.43,418.25 L249.23,419.35 L250.02,420.48 L250.82,421.63 L251.61,422.80 L252.41,423.99 L253.20,425.20" fill="none" stroke="#f5127f" stroke-width="1.6" stroke-linejoin="round"/>
<path d="M84.00,425.40 L84.85,425.25 L85.70,425.11 L86.56,424.96 L87.41,424.82 L88.26,424.68 L89.11,424.54 L89.96,424.41 L90.81,424.27 L91.67,424.13 L92.52,423.98 L93.37,423.84 L94.22,423.70 L95.07,423.57 L95.92,423.45 L96.78,423.34 L97.63,423.25 L98.48,423.18 L99.33,423.11 L100.18,423.05 L101.04,423.00 L101.89,422.94 L102.74,422.89 L103.59,422.85 L104.44,422.80 L105.29,422.76 L106.15,422.72 L107.00,422.69 L107.85,422.66 L108.70,422.63 L109.55,422.61 L110.40,422.59 L111.26,422.58 L112.11,422.57 L112.96,422.56 L113.81,422.55 L114.66,422.54 L115.52,422.52 L116.37,422.50 L117.22,422.45 L118.07,422.36 L118.92,422.22 L119.77,422.05 L120.63,421.86 L121.48,421.63 L122.33,421.39 L123.18,421.14 L124.03,420.89 L124.88,420.63 L125.74,420.37 L126.59,420.09 L127.44,419.77 L128.29,419.42 L129.14,419.05 L129.99,418.64 L130.85,418.20 L131.70,417.73 L132.55,417.18 L133.40,416.55 L134.25,415.87 L135.11,415.13 L135.96,414.35 L136.81,413.55 L137.66,412.73 L138.51,411.90 L139.36,411.02 L140.22,410.09 L141.07,409.13 L141.92,408.13 L142.77,407.10 L143.62,406.03 L144.47,404.94 L145.33,403.74 L146.18,402.46 L147.03,401.17 L147.88,399.91 L148.73,398.76 L149.59,397.71 L150.44,396.74 L151.29,395.78 L152.14,394.81 L152.99,393.79 L153.84,392.76 L154.70,391.73 L155.55,390.69 L156.40,389.63 L157.25,388.57 L158.10,387.51 L158.95,386.43 L159.81,385.35 L160.66,384.24 L161.51,383.09 L162.36,381.95 L163.21,380.85 L164.07,379.83 L164.92,378.83 L165.77,377.87 L166.62,376.94 L167.47,376.04 L168.32,375.17 L169.18,374.34 L170.03,373.53 L170.88,372.75 L171.73,372.03 L172.58,371.36 L173.43,370.72 L174.29,370.07 L175.14,369.44 L175.99,368.84 L176.84,368.28 L177.69,367.78 L178.55,367.33 L179.40,366.97 L180.25,366.69 L181.10,366.43 L181.95,366.19 L182.80,365.95 L183.66,365.73 L184.51,365.53 L185.36,365.36 L186.21,365.21 L187.06,365.10 L187.91,365.03 L188.77,365.00 L189.62,365.01 L190.47,365.04 L191.32,365.10 L192.17,365.18 L193.03,365.28 L193.88,365.40 L194.73,365.53 L195.58,365.68 L196.43,365.83 L197.28,366.00 L198.14,366.18 L198.99,366.43 L199.84,366.76 L200.69,367.16 L201.54,367.60 L202.39,368.08 L203.25,368.57 L204.10,369.06 L204.95,369.58 L205.80,370.14 L206.65,370.75 L207.51,371.39 L208.36,372.05 L209.21,372.74 L210.06,373.44 L210.91,374.15 L211.76,374.86 L212.62,375.57 L213.47,376.26 L214.32,376.95 L215.17,377.64 L216.02,378.35 L216.87,379.09 L217.73,379.86 L218.58,380.68 L219.43,381.56 L220.28,382.53 L221.13,383.57 L221.98,384.66 L222.84,385.76 L223.69,386.86 L224.54,387.93 L225.39,388.96 L226.24,389.99 L227.10,391.01 L227.95,392.02 L228.80,393.03 L229.65,394.04 L230.50,395.06 L231.35,396.07 L232.21,397.09 L233.06,398.11 L233.91,399.14 L234.76,400.18 L235.61,401.22 L236.46,402.28 L237.32,403.35 L238.17,404.42 L239.02,405.50 L239.87,406.58 L240.72,407.68 L241.58,408.78 L242.43,409.90 L243.28,411.03 L244.13,412.17 L244.98,413.32 L245.83,414.49 L246.69,415.66 L247.54,416.85 L248.39,418.05 L249.24,419.27 L250.09,420.49 L250.94,421.73 L251.80,422.97 L252.65,424.23 L253.50,425.50" fill="none" stroke="#1414f5" stroke-width="1.6" stroke-linejoin="round"/>
<path d="M84.00,425.40 L84.85,425.27 L85.71,425.15 L86.56,425.03 L87.42,424.92 L88.27,424.81 L89.13,424.70 L89.98,424.60 L90.83,424.51 L91.69,424.41 L92.54,424.32 L93.40,424.23 L94.25,424.14 L95.11,424.05 L95.96,423.98 L96.81,423.90 L97.67,423.84 L98.52,423.78 L99.38,423.72 L100.23,423.67 L101.09,423.63 L101.94,423.58 L102.79,423.54 L103.65,423.50 L104.50,423.46 L105.36,423.43 L106.21,423.39 L107.07,423.35 L107.92,423.31 L108.77,423.27 L109.63,423.22 L110.48,423.17 L111.34,423.13 L112.19,423.09 L113.05,423.04 L113.90,422.99 L114.75,422.94 L115.61,422.87 L116.46,422.79 L117.32,422.69 L118.17,422.54 L119.03,422.36 L119.88,422.15 L120.73,421.92 L121.59,421.67 L122.44,421.41 L123.30,421.14 L124.15,420.87 L125.01,420.60 L125.86,420.33 L126.71,420.04 L127.57,419.74 L128.42,419.43 L129.28,419.08 L130.13,418.71 L130.98,418.31 L131.84,417.87 L132.69,417.36 L133.55,416.79 L134.40,416.17 L135.26,415.50 L136.11,414.80 L136.96,414.05 L137.82,413.28 L138.67,412.46 L139.53,411.58 L140.38,410.64 L141.24,409.64 L142.09,408.58 L142.94,407.49 L143.80,406.35 L144.65,405.17 L145.51,403.91 L146.36,402.58 L147.22,401.17 L148.07,399.66 L148.92,398.07 L149.78,396.30 L150.63,394.37 L151.49,392.29 L152.34,390.00 L153.20,387.60 L154.05,385.21 L154.90,382.94 L155.76,380.75 L156.61,378.60 L157.47,376.45 L158.32,374.30 L159.18,372.11 L160.03,369.86 L160.88,367.54 L161.74,365.21 L162.59,362.87 L163.45,360.45 L164.30,357.98 L165.16,355.51 L166.01,353.06 L166.86,350.69 L167.72,348.42 L168.57,346.29 L169.43,344.34 L170.28,342.52 L171.14,340.76 L171.99,339.07 L172.84,337.46 L173.70,335.91 L174.55,334.45 L175.41,333.08 L176.26,331.80 L177.12,330.61 L177.97,329.47 L178.82,328.36 L179.68,327.30 L180.53,326.29 L181.39,325.35 L182.24,324.49 L183.10,323.71 L183.95,323.02 L184.80,322.42 L185.66,321.83 L186.51,321.25 L187.37,320.69 L188.22,320.16 L189.08,319.70 L189.93,319.30 L190.78,318.99 L191.64,318.78 L192.49,318.70 L193.35,318.71 L194.20,318.74 L195.06,318.80 L195.91,318.88 L196.76,318.98 L197.62,319.10 L198.47,319.24 L199.33,319.39 L200.18,319.57 L201.04,319.92 L201.89,320.43 L202.74,321.05 L203.60,321.70 L204.45,322.34 L205.31,323.03 L206.16,323.78 L207.02,324.57 L207.87,325.42 L208.72,326.31 L209.58,327.25 L210.43,328.24 L211.29,329.26 L212.14,330.36 L212.99,331.56 L213.85,332.86 L214.70,334.23 L215.56,335.66 L216.41,337.12 L217.27,338.60 L218.12,340.07 L218.97,341.53 L219.83,342.98 L220.68,344.45 L221.54,345.94 L222.39,347.45 L223.25,348.98 L224.10,350.53 L224.95,352.10 L225.81,353.69 L226.66,355.30 L227.52,356.92 L228.37,358.56 L229.23,360.22 L230.08,361.90 L230.93,363.61 L231.79,365.35 L232.64,367.13 L233.50,368.93 L234.35,370.78 L235.21,372.66 L236.06,374.58 L236.91,376.58 L237.77,378.66 L238.62,380.85 L239.48,383.21 L240.33,385.70 L241.19,388.24 L242.04,390.75 L242.89,393.19 L243.75,395.59 L244.60,397.99 L245.46,400.37 L246.31,402.77 L247.17,405.18 L248.02,407.62 L248.87,410.10 L249.73,412.61 L250.58,415.14 L251.44,417.70 L252.29,420.28 L253.15,422.88 L254.00,425.50" fill="none" stroke="#17968f" stroke-width="1.5" stroke-linejoin="round"/>
</g>
<text x="183.6" y="316.3" font-size="10" font-weight="bold" text-anchor="start" font-family='"Liberation Sans", sans-serif' fill="#111" stroke="#111" stroke-width="0.2">0.41%</text>
<text x="180.5" y="362.8" font-size="10" font-weight="bold" text-anchor="start" font-family='"Liberation Sans", sans-serif' fill="#111" stroke="#111" stroke-width="0.2">0.23%</text>
<text x="189.0" y="388.7" font-size="10" font-weight="bold" text-anchor="start" font-family='"Liberation Sans", sans-serif' fill="#111" stroke="#111" stroke-width="0.2">0.14%</text>
<text x="184.2" y="414.4" font-size="10" font-weight="bold" text-anchor="start" font-family='"Liberation Sans", sans-serif' fill="#111" stroke="#111" stroke-width="0.2">0.09%</text>
<line x1="49.4" y1="253.8" x2="72.9" y2="253.8" stroke="#17968f" stroke-width="1.5" />
<text x="76.1" y="257.7" font-size="11.25" font-weight="bold" text-anchor="start" font-family='"Liberation Sans", sans-serif' fill="#111" stroke="#111" stroke-width="0.2">CoFe-LDH/TFO</text>
<line x1="49.4" y1="268" x2="72.9" y2="268" stroke="#1414f5" stroke-width="1.5" />
<text x="76.1" y="271.9" font-size="11.25" font-weight="bold" text-anchor="start" font-family='"Liberation Sans", sans-serif' fill="#111" stroke="#111" stroke-width="0.2">CoFe-LDH/α-Fe<tspan font-size="7.5" dy="2.8">2</tspan><tspan dy="-2.8">O</tspan><tspan font-size="7.5" dy="2.8">3</tspan></text>
<line x1="49.4" y1="284.4" x2="72.9" y2="284.4" stroke="#f5127f" stroke-width="1.6" />
<text x="76.1" y="288.29999999999995" font-size="11.25" font-weight="bold" text-anchor="start" font-family='"Liberation Sans", sans-serif' fill="#111" stroke="#111" stroke-width="0.2">TFO</text>
<line x1="49.4" y1="298.5" x2="72.9" y2="298.5" stroke="#4a4a4a" stroke-width="1.2" />
<text x="76.1" y="302.4" font-size="11.25" font-weight="bold" text-anchor="start" font-family='"Liberation Sans", sans-serif' fill="#111" stroke="#111" stroke-width="0.2">α-Fe<tspan font-size="7.5" dy="2.8">2</tspan><tspan dy="-2.8">O</tspan><tspan font-size="7.5" dy="2.8">3</tspan></text>
<rect x="44.8" y="242.5" width="226.3" height="183.10000000000002" fill="none" stroke="#1e1e1e" stroke-width="1.1"/>
<line x1="41.0" y1="424.9" x2="44.8" y2="424.9" stroke="#1e1e1e" stroke-width="1" />
<text x="38.599999999999994" y="428.59999999999997" font-size="10.2" font-weight="normal" text-anchor="end" font-family='"Liberation Sans", sans-serif' fill="#222" stroke="#222" stroke-width="0.25">0.0</text>
<line x1="41.0" y1="398.85999999999996" x2="44.8" y2="398.85999999999996" stroke="#1e1e1e" stroke-width="1" />
<text x="38.599999999999994" y="402.55999999999995" font-size="10.2" font-weight="normal" text-anchor="end" font-family='"Liberation Sans", sans-serif' fill="#222" stroke="#222" stroke-width="0.25">0.1</text>
<line x1="41.0" y1="372.82" x2="44.8" y2="372.82" stroke="#1e1e1e" stroke-width="1" />
<text x="38.599999999999994" y="376.52" font-size="10.2" font-weight="normal" text-anchor="end" font-family='"Liberation Sans", sans-serif' fill="#222" stroke="#222" stroke-width="0.25">0.2</text>
<line x1="41.0" y1="346.78" x2="44.8" y2="346.78" stroke="#1e1e1e" stroke-width="1" />
<text x="38.599999999999994" y="350.47999999999996" font-size="10.2" font-weight="normal" text-anchor="end" font-family='"Liberation Sans", sans-serif' fill="#222" stroke="#222" stroke-width="0.25">0.3</text>
<line x1="41.0" y1="320.74" x2="44.8" y2="320.74" stroke="#1e1e1e" stroke-width="1" />
<text x="38.599999999999994" y="324.44" font-size="10.2" font-weight="normal" text-anchor="end" font-family='"Liberation Sans", sans-serif' fill="#222" stroke="#222" stroke-width="0.25">0.4</text>
<line x1="41.0" y1="294.7" x2="44.8" y2="294.7" stroke="#1e1e1e" stroke-width="1" />
<text x="38.599999999999994" y="298.4" font-size="10.2" font-weight="normal" text-anchor="end" font-family='"Liberation Sans", sans-serif' fill="#222" stroke="#222" stroke-width="0.25">0.5</text>
<line x1="41.0" y1="268.65999999999997" x2="44.8" y2="268.65999999999997" stroke="#1e1e1e" stroke-width="1" />
<text x="38.599999999999994" y="272.35999999999996" font-size="10.2" font-weight="normal" text-anchor="end" font-family='"Liberation Sans", sans-serif' fill="#222" stroke="#222" stroke-width="0.25">0.6</text>
<line x1="41.0" y1="242.62" x2="44.8" y2="242.62" stroke="#1e1e1e" stroke-width="1" />
<text x="38.599999999999994" y="246.32" font-size="10.2" font-weight="normal" text-anchor="end" font-family='"Liberation Sans", sans-serif' fill="#222" stroke="#222" stroke-width="0.25">0.7</text>
<line x1="43.0" y1="411.88" x2="44.8" y2="411.88" stroke="#1e1e1e" stroke-width="1" />
<line x1="43.0" y1="385.84" x2="44.8" y2="385.84" stroke="#1e1e1e" stroke-width="1" />
<line x1="43.0" y1="359.79999999999995" x2="44.8" y2="359.79999999999995" stroke="#1e1e1e" stroke-width="1" />
<line x1="43.0" y1="333.76" x2="44.8" y2="333.76" stroke="#1e1e1e" stroke-width="1" />
<line x1="43.0" y1="307.71999999999997" x2="44.8" y2="307.71999999999997" stroke="#1e1e1e" stroke-width="1" />
<line x1="43.0" y1="281.67999999999995" x2="44.8" y2="281.67999999999995" stroke="#1e1e1e" stroke-width="1" />
<line x1="43.0" y1="255.64" x2="44.8" y2="255.64" stroke="#1e1e1e" stroke-width="1" />
<line x1="45.0" y1="425.6" x2="45.0" y2="429.40000000000003" stroke="#1e1e1e" stroke-width="1" />
<text x="45.0" y="440.0" font-size="10.2" font-weight="normal" text-anchor="middle" font-family='"Liberation Sans", sans-serif' fill="#222" stroke="#222" stroke-width="0.25">0.4</text>
<line x1="95.33999999999999" y1="425.6" x2="95.33999999999999" y2="429.40000000000003" stroke="#1e1e1e" stroke-width="1" />
<text x="95.33999999999999" y="440.0" font-size="10.2" font-weight="normal" text-anchor="middle" font-family='"Liberation Sans", sans-serif' fill="#222" stroke="#222" stroke-width="0.25">0.6</text>
<line x1="145.68" y1="425.6" x2="145.68" y2="429.40000000000003" stroke="#1e1e1e" stroke-width="1" />
<text x="145.68" y="440.0" font-size="10.2" font-weight="normal" text-anchor="middle" font-family='"Liberation Sans", sans-serif' fill="#222" stroke="#222" stroke-width="0.25">0.8</text>
<line x1="196.01999999999998" y1="425.6" x2="196.01999999999998" y2="429.40000000000003" stroke="#1e1e1e" stroke-width="1" />
<text x="196.01999999999998" y="440.0" font-size="10.2" font-weight="normal" text-anchor="middle" font-family='"Liberation Sans", sans-serif' fill="#222" stroke="#222" stroke-width="0.25">1.0</text>
<line x1="246.35999999999999" y1="425.6" x2="246.35999999999999" y2="429.40000000000003" stroke="#1e1e1e" stroke-width="1" />
<text x="246.35999999999999" y="440.0" font-size="10.2" font-weight="normal" text-anchor="middle" font-family='"Liberation Sans", sans-serif' fill="#222" stroke="#222" stroke-width="0.25">1.2</text>
<line x1="70.16999999999999" y1="425.6" x2="70.16999999999999" y2="427.40000000000003" stroke="#1e1e1e" stroke-width="1" />
<line x1="120.50999999999998" y1="425.6" x2="120.50999999999998" y2="427.40000000000003" stroke="#1e1e1e" stroke-width="1" />
<line x1="170.85" y1="425.6" x2="170.85" y2="427.40000000000003" stroke="#1e1e1e" stroke-width="1" />
<line x1="221.19" y1="425.6" x2="221.19" y2="427.40000000000003" stroke="#1e1e1e" stroke-width="1" />
<text transform="translate(14.6,331.2) rotate(-90)" x="0" y="0" font-size="11" font-weight="bold" text-anchor="middle" font-family='"Liberation Sans", sans-serif' fill="#111" stroke="#111" stroke-width="0.2">ABPE (%)</text>
<text x="158.4" y="456.8" font-size="11.2" font-weight="bold" text-anchor="middle" font-family='"Liberation Sans", sans-serif' fill="#111" stroke="#111" stroke-width="0.2">Potential (V vs.RHE)</text>
<text x="244" y="266.3" font-size="20" font-weight="bold" text-anchor="start" font-family='"Liberation Serif", serif' fill="#111" >(c)</text>
<path d="M311.50,392.12 L320.34,392.56 L329.19,393.89 L338.03,396.10 L346.88,398.76 L355.72,400.09 L364.56,401.86 L373.41,403.64 L382.25,406.29 L391.10,408.51 L399.94,410.28 L408.78,412.05 L417.63,414.27 L426.47,416.93 L435.32,418.70 L444.16,420.47 L453.00,421.36 L461.85,422.02 L470.69,422.69 L479.54,423.13 L488.38,423.57 L497.22,423.57 L506.07,424.01 L514.91,424.24 L523.76,424.46 L532.60,424.46" fill="none" stroke="#3a3a3a" stroke-width="1.3" stroke-linejoin="round"/>
<rect x="309.60" y="390.22" width="3.79" height="3.79" fill="#3a3a3a"/>
<rect x="318.45" y="390.66" width="3.79" height="3.79" fill="#3a3a3a"/>
<rect x="327.29" y="391.99" width="3.79" height="3.79" fill="#3a3a3a"/>
<rect x="336.13" y="394.21" width="3.79" height="3.79" fill="#3a3a3a"/>
<rect x="344.98" y="396.87" width="3.79" height="3.79" fill="#3a3a3a"/>
<rect x="353.82" y="398.19" width="3.79" height="3.79" fill="#3a3a3a"/>
<rect x="362.67" y="399.97" width="3.79" height="3.79" fill="#3a3a3a"/>
<rect x="371.51" y="401.74" width="3.79" height="3.79" fill="#3a3a3a"/>
<rect x="380.35" y="404.40" width="3.79" height="3.79" fill="#3a3a3a"/>
<rect x="389.20" y="406.61" width="3.79" height="3.79" fill="#3a3a3a"/>
<rect x="398.04" y="408.38" width="3.79" height="3.79" fill="#3a3a3a"/>
<rect x="406.89" y="410.16" width="3.79" height="3.79" fill="#3a3a3a"/>
<rect x="415.73" y="412.37" width="3.79" height="3.79" fill="#3a3a3a"/>
<rect x="424.57" y="415.03" width="3.79" height="3.79" fill="#3a3a3a"/>
<rect x="433.42" y="416.80" width="3.79" height="3.79" fill="#3a3a3a"/>
<rect x="442.26" y="418.57" width="3.79" height="3.79" fill="#3a3a3a"/>
<rect x="451.11" y="419.46" width="3.79" height="3.79" fill="#3a3a3a"/>
<rect x="459.95" y="420.12" width="3.79" height="3.79" fill="#3a3a3a"/>
<rect x="468.79" y="420.79" width="3.79" height="3.79" fill="#3a3a3a"/>
<rect x="477.64" y="421.23" width="3.79" height="3.79" fill="#3a3a3a"/>
<rect x="486.48" y="421.67" width="3.79" height="3.79" fill="#3a3a3a"/>
<rect x="495.33" y="421.67" width="3.79" height="3.79" fill="#3a3a3a"/>
<rect x="504.17" y="422.12" width="3.79" height="3.79" fill="#3a3a3a"/>
<rect x="513.01" y="422.34" width="3.79" height="3.79" fill="#3a3a3a"/>
<rect x="521.86" y="422.56" width="3.79" height="3.79" fill="#3a3a3a"/>
<rect x="530.70" y="422.56" width="3.79" height="3.79" fill="#3a3a3a"/>
<path d="M311.50,356.24 L320.34,360.22 L329.19,364.65 L338.03,369.08 L346.88,372.63 L355.72,375.73 L364.56,380.16 L373.41,384.59 L382.25,388.57 L391.10,392.56 L399.94,396.55 L408.78,400.09 L417.63,403.64 L426.47,407.40 L435.32,410.28 L444.16,413.38 L453.00,415.60 L461.85,417.37 L470.69,418.92 L479.54,420.47 L488.38,421.58 L497.22,422.24 L506.07,423.13 L514.91,424.01 L523.76,424.01 L532.60,424.46" fill="none" stroke="#f5127f" stroke-width="1.5" stroke-linejoin="round"/>
<circle cx="311.50" cy="356.24" r="2.24" fill="#f5127f"/>
<circle cx="320.34" cy="360.22" r="2.24" fill="#f5127f"/>
<circle cx="329.19" cy="364.65" r="2.24" fill="#f5127f"/>
<circle cx="338.03" cy="369.08" r="2.24" fill="#f5127f"/>
<circle cx="346.88" cy="372.63" r="2.24" fill="#f5127f"/>
<circle cx="355.72" cy="375.73" r="2.24" fill="#f5127f"/>
<circle cx="364.56" cy="380.16" r="2.24" fill="#f5127f"/>
<circle cx="373.41" cy="384.59" r="2.24" fill="#f5127f"/>
<circle cx="382.25" cy="388.57" r="2.24" fill="#f5127f"/>
<circle cx="391.10" cy="392.56" r="2.24" fill="#f5127f"/>
<circle cx="399.94" cy="396.55" r="2.24" fill="#f5127f"/>
<circle cx="408.78" cy="400.09" r="2.24" fill="#f5127f"/>
<circle cx="417.63" cy="403.64" r="2.24" fill="#f5127f"/>
<circle cx="426.47" cy="407.40" r="2.24" fill="#f5127f"/>
<circle cx="435.32" cy="410.28" r="2.24" fill="#f5127f"/>
<circle cx="444.16" cy="413.38" r="2.24" fill="#f5127f"/>
<circle cx="453.00" cy="415.60" r="2.24" fill="#f5127f"/>
<circle cx="461.85" cy="417.37" r="2.24" fill="#f5127f"/>
<circle cx="470.69" cy="418.92" r="2.24" fill="#f5127f"/>
<circle cx="479.54" cy="420.47" r="2.24" fill="#f5127f"/>
<circle cx="488.38" cy="421.58" r="2.24" fill="#f5127f"/>
<circle cx="497.22" cy="422.24" r="2.24" fill="#f5127f"/>
<circle cx="506.07" cy="423.13" r="2.24" fill="#f5127f"/>
<circle cx="514.91" cy="424.01" r="2.24" fill="#f5127f"/>
<circle cx="523.76" cy="424.01" r="2.24" fill="#f5127f"/>
<circle cx="532.60" cy="424.46" r="2.24" fill="#f5127f"/>
<path d="M311.50,350.03 L320.34,350.92 L329.19,353.58 L338.03,355.79 L346.88,358.89 L355.72,362.88 L364.56,367.31 L373.41,371.30 L382.25,377.06 L391.10,382.81 L399.94,388.13 L408.78,392.56 L417.63,396.77 L426.47,401.86 L435.32,404.96 L444.16,408.07 L453.00,410.28 L461.85,412.94 L470.69,414.71 L479.54,416.48 L488.38,417.81 L497.22,419.58 L506.07,420.91 L514.91,423.13 L523.76,422.69 L532.60,424.01" fill="none" stroke="#1414f5" stroke-width="1.5" stroke-linejoin="round"/>
<path d="M311.50,347.55 L313.80,351.69 L309.20,351.69 Z" fill="#1414f5"/>
<path d="M320.34,348.44 L322.64,352.57 L318.04,352.57 Z" fill="#1414f5"/>
<path d="M329.19,351.09 L331.49,355.23 L326.89,355.23 Z" fill="#1414f5"/>
<path d="M338.03,353.31 L340.33,357.45 L335.73,357.45 Z" fill="#1414f5"/>
<path d="M346.88,356.41 L349.18,360.55 L344.58,360.55 Z" fill="#1414f5"/>
<path d="M355.72,360.40 L358.02,364.54 L353.42,364.54 Z" fill="#1414f5"/>
<path d="M364.56,364.83 L366.86,368.97 L362.26,368.97 Z" fill="#1414f5"/>
<path d="M373.41,368.81 L375.71,372.95 L371.11,372.95 Z" fill="#1414f5"/>
<path d="M382.25,374.57 L384.55,378.71 L379.95,378.71 Z" fill="#1414f5"/>
<path d="M391.10,380.33 L393.40,384.47 L388.80,384.47 Z" fill="#1414f5"/>
<path d="M399.94,385.65 L402.24,389.79 L397.64,389.79 Z" fill="#1414f5"/>
<path d="M408.78,390.08 L411.08,394.22 L406.48,394.22 Z" fill="#1414f5"/>
<path d="M417.63,394.29 L419.93,398.43 L415.33,398.43 Z" fill="#1414f5"/>
<path d="M426.47,399.38 L428.77,403.52 L424.17,403.52 Z" fill="#1414f5"/>
<path d="M435.32,402.48 L437.62,406.62 L433.02,406.62 Z" fill="#1414f5"/>
<path d="M444.16,405.58 L446.46,409.72 L441.86,409.72 Z" fill="#1414f5"/>
<path d="M453.00,407.80 L455.30,411.94 L450.70,411.94 Z" fill="#1414f5"/>
<path d="M461.85,410.45 L464.15,414.59 L459.55,414.59 Z" fill="#1414f5"/>
<path d="M470.69,412.23 L472.99,416.37 L468.39,416.37 Z" fill="#1414f5"/>
<path d="M479.54,414.00 L481.84,418.14 L477.24,418.14 Z" fill="#1414f5"/>
<path d="M488.38,415.33 L490.68,419.47 L486.08,419.47 Z" fill="#1414f5"/>
<path d="M497.22,417.10 L499.52,421.24 L494.92,421.24 Z" fill="#1414f5"/>
<path d="M506.07,418.43 L508.37,422.57 L503.77,422.57 Z" fill="#1414f5"/>
<path d="M514.91,420.64 L517.21,424.78 L512.61,424.78 Z" fill="#1414f5"/>
<path d="M523.76,420.20 L526.06,424.34 L521.46,424.34 Z" fill="#1414f5"/>
<path d="M532.60,421.53 L534.90,425.67 L530.30,425.67 Z" fill="#1414f5"/>
<path d="M311.50,273.39 L320.34,292.89 L329.19,301.75 L338.03,316.37 L346.88,323.01 L355.72,329.65 L364.56,332.76 L373.41,339.40 L382.25,349.59 L391.10,356.24 L399.94,364.65 L408.78,370.85 L417.63,377.50 L426.47,384.59 L435.32,389.46 L444.16,394.78 L453.00,397.88 L461.85,401.42 L470.69,403.41 L479.54,406.74 L488.38,409.39 L497.22,412.05 L506.07,415.15 L514.91,420.47 L523.76,419.58 L532.60,420.47" fill="none" stroke="#138a84" stroke-width="1.5" stroke-linejoin="round"/>
<circle cx="311.50" cy="273.39" r="2.30" fill="#138a84"/>
<circle cx="320.34" cy="292.89" r="2.30" fill="#138a84"/>
<circle cx="329.19" cy="301.75" r="2.30" fill="#138a84"/>
<circle cx="338.03" cy="316.37" r="2.30" fill="#138a84"/>
<circle cx="346.88" cy="323.01" r="2.30" fill="#138a84"/>
<circle cx="355.72" cy="329.65" r="2.30" fill="#138a84"/>
<circle cx="364.56" cy="332.76" r="2.30" fill="#138a84"/>
<circle cx="373.41" cy="339.40" r="2.30" fill="#138a84"/>
<circle cx="382.25" cy="349.59" r="2.30" fill="#138a84"/>
<circle cx="391.10" cy="356.24" r="2.30" fill="#138a84"/>
<circle cx="399.94" cy="364.65" r="2.30" fill="#138a84"/>
<circle cx="408.78" cy="370.85" r="2.30" fill="#138a84"/>
<circle cx="417.63" cy="377.50" r="2.30" fill="#138a84"/>
<circle cx="426.47" cy="384.59" r="2.30" fill="#138a84"/>
<circle cx="435.32" cy="389.46" r="2.30" fill="#138a84"/>
<circle cx="444.16" cy="394.78" r="2.30" fill="#138a84"/>
<circle cx="453.00" cy="397.88" r="2.30" fill="#138a84"/>
<circle cx="461.85" cy="401.42" r="2.30" fill="#138a84"/>
<circle cx="470.69" cy="403.41" r="2.30" fill="#138a84"/>
<circle cx="479.54" cy="406.74" r="2.30" fill="#138a84"/>
<circle cx="488.38" cy="409.39" r="2.30" fill="#138a84"/>
<circle cx="497.22" cy="412.05" r="2.30" fill="#138a84"/>
<circle cx="506.07" cy="415.15" r="2.30" fill="#138a84"/>
<circle cx="514.91" cy="420.47" r="2.30" fill="#138a84"/>
<circle cx="523.76" cy="419.58" r="2.30" fill="#138a84"/>
<circle cx="532.60" cy="420.47" r="2.30" fill="#138a84"/>
<line x1="416.7" y1="314.2" x2="437.9" y2="314.2" stroke="#138a84" stroke-width="1.5" />
<circle cx="427.40" cy="314.20" r="2.30" fill="#138a84"/>
<text x="440.7" y="317.8" font-size="10" font-weight="bold" text-anchor="start" font-family='"Liberation Sans", sans-serif' fill="#111" stroke="#111" stroke-width="0.2">CoFe-LDH/TFO</text>
<line x1="416.7" y1="327.3" x2="437.9" y2="327.3" stroke="#1414f5" stroke-width="1.5" />
<path d="M427.40,324.82 L429.70,328.96 L425.10,328.96 Z" fill="#1414f5"/>
<text x="440.7" y="330.90000000000003" font-size="10" font-weight="bold" text-anchor="start" font-family='"Liberation Sans", sans-serif' fill="#111" stroke="#111" stroke-width="0.2">CoFe-LDH/α-Fe<tspan font-size="7" dy="2.5">2</tspan><tspan dy="-2.5">O</tspan><tspan font-size="7" dy="2.5">3</tspan></text>
<line x1="416.7" y1="341.5" x2="437.9" y2="341.5" stroke="#f5127f" stroke-width="1.5" />
<circle cx="427.40" cy="341.50" r="2.24" fill="#f5127f"/>
<text x="440.7" y="345.1" font-size="10" font-weight="bold" text-anchor="start" font-family='"Liberation Sans", sans-serif' fill="#111" stroke="#111" stroke-width="0.2">TFO</text>
<line x1="416.7" y1="354.5" x2="437.9" y2="354.5" stroke="#3a3a3a" stroke-width="1.5" />
<rect x="425.50" y="352.60" width="3.79" height="3.79" fill="#3a3a3a"/>
<text x="440.7" y="358.1" font-size="10" font-weight="bold" text-anchor="start" font-family='"Liberation Sans", sans-serif' fill="#111" stroke="#111" stroke-width="0.2">α-Fe<tspan font-size="7" dy="2.5">2</tspan><tspan dy="-2.5">O</tspan><tspan font-size="7" dy="2.5">3</tspan></text>
<rect x="311.5" y="247.8" width="221.10000000000002" height="177.2" fill="none" stroke="#1e1e1e" stroke-width="1.1"/>
<line x1="307.7" y1="424.9" x2="311.5" y2="424.9" stroke="#1e1e1e" stroke-width="1" />
<text x="305.3" y="428.59999999999997" font-size="10.2" font-weight="normal" text-anchor="end" font-family='"Liberation Sans", sans-serif' fill="#222" stroke="#222" stroke-width="0.25">0</text>
<line x1="307.7" y1="380.59999999999997" x2="311.5" y2="380.59999999999997" stroke="#1e1e1e" stroke-width="1" />
<text x="305.3" y="384.29999999999995" font-size="10.2" font-weight="normal" text-anchor="end" font-family='"Liberation Sans", sans-serif' fill="#222" stroke="#222" stroke-width="0.25">10</text>
<line x1="307.7" y1="336.29999999999995" x2="311.5" y2="336.29999999999995" stroke="#1e1e1e" stroke-width="1" />
<text x="305.3" y="339.99999999999994" font-size="10.2" font-weight="normal" text-anchor="end" font-family='"Liberation Sans", sans-serif' fill="#222" stroke="#222" stroke-width="0.25">20</text>
<line x1="307.7" y1="292.0" x2="311.5" y2="292.0" stroke="#1e1e1e" stroke-width="1" />
<text x="305.3" y="295.7" font-size="10.2" font-weight="normal" text-anchor="end" font-family='"Liberation Sans", sans-serif' fill="#222" stroke="#222" stroke-width="0.25">30</text>
<line x1="307.7" y1="247.7" x2="311.5" y2="247.7" stroke="#1e1e1e" stroke-width="1" />
<text x="305.3" y="251.39999999999998" font-size="10.2" font-weight="normal" text-anchor="end" font-family='"Liberation Sans", sans-serif' fill="#222" stroke="#222" stroke-width="0.25">40</text>
<line x1="309.7" y1="402.75" x2="311.5" y2="402.75" stroke="#1e1e1e" stroke-width="1" />
<line x1="309.7" y1="358.45" x2="311.5" y2="358.45" stroke="#1e1e1e" stroke-width="1" />
<line x1="309.7" y1="314.15" x2="311.5" y2="314.15" stroke="#1e1e1e" stroke-width="1" />
<line x1="309.7" y1="269.85" x2="311.5" y2="269.85" stroke="#1e1e1e" stroke-width="1" />
<line x1="311.5" y1="425.0" x2="311.5" y2="428.8" stroke="#1e1e1e" stroke-width="1" />
<text x="311.5" y="439.4" font-size="10.2" font-weight="normal" text-anchor="middle" font-family='"Liberation Sans", sans-serif' fill="#222" stroke="#222" stroke-width="0.25">350</text>
<line x1="355.72" y1="425.0" x2="355.72" y2="428.8" stroke="#1e1e1e" stroke-width="1" />
<text x="355.72" y="439.4" font-size="10.2" font-weight="normal" text-anchor="middle" font-family='"Liberation Sans", sans-serif' fill="#222" stroke="#222" stroke-width="0.25">400</text>
<line x1="399.94" y1="425.0" x2="399.94" y2="428.8" stroke="#1e1e1e" stroke-width="1" />
<text x="399.94" y="439.4" font-size="10.2" font-weight="normal" text-anchor="middle" font-family='"Liberation Sans", sans-serif' fill="#222" stroke="#222" stroke-width="0.25">450</text>
<line x1="444.15999999999997" y1="425.0" x2="444.15999999999997" y2="428.8" stroke="#1e1e1e" stroke-width="1" />
<text x="444.15999999999997" y="439.4" font-size="10.2" font-weight="normal" text-anchor="middle" font-family='"Liberation Sans", sans-serif' fill="#222" stroke="#222" stroke-width="0.25">500</text>
<line x1="488.38" y1="425.0" x2="488.38" y2="428.8" stroke="#1e1e1e" stroke-width="1" />
<text x="488.38" y="439.4" font-size="10.2" font-weight="normal" text-anchor="middle" font-family='"Liberation Sans", sans-serif' fill="#222" stroke="#222" stroke-width="0.25">550</text>
<line x1="532.6" y1="425.0" x2="532.6" y2="428.8" stroke="#1e1e1e" stroke-width="1" />
<text x="532.6" y="439.4" font-size="10.2" font-weight="normal" text-anchor="middle" font-family='"Liberation Sans", sans-serif' fill="#222" stroke="#222" stroke-width="0.25">600</text>
<line x1="333.61" y1="425.0" x2="333.61" y2="426.8" stroke="#1e1e1e" stroke-width="1" />
<line x1="377.83" y1="425.0" x2="377.83" y2="426.8" stroke="#1e1e1e" stroke-width="1" />
<line x1="422.05" y1="425.0" x2="422.05" y2="426.8" stroke="#1e1e1e" stroke-width="1" />
<line x1="466.27" y1="425.0" x2="466.27" y2="426.8" stroke="#1e1e1e" stroke-width="1" />
<line x1="510.49" y1="425.0" x2="510.49" y2="426.8" stroke="#1e1e1e" stroke-width="1" />
<text transform="translate(284.6,333.8) rotate(-90)" x="0" y="0" font-size="11" font-weight="bold" text-anchor="middle" font-family='"Liberation Sans", sans-serif' fill="#111" stroke="#111" stroke-width="0.2">IPCE (%)</text>
<text x="422" y="456.8" font-size="11.0" font-weight="bold" text-anchor="middle" font-family='"Liberation Sans", sans-serif' fill="#111" stroke="#111" stroke-width="0.2">Wavelength (nm)</text>
<text x="505" y="271" font-size="20" font-weight="bold" text-anchor="start" font-family='"Liberation Serif", serif' fill="#111" >(d)</text>
</svg>
</body></html>
